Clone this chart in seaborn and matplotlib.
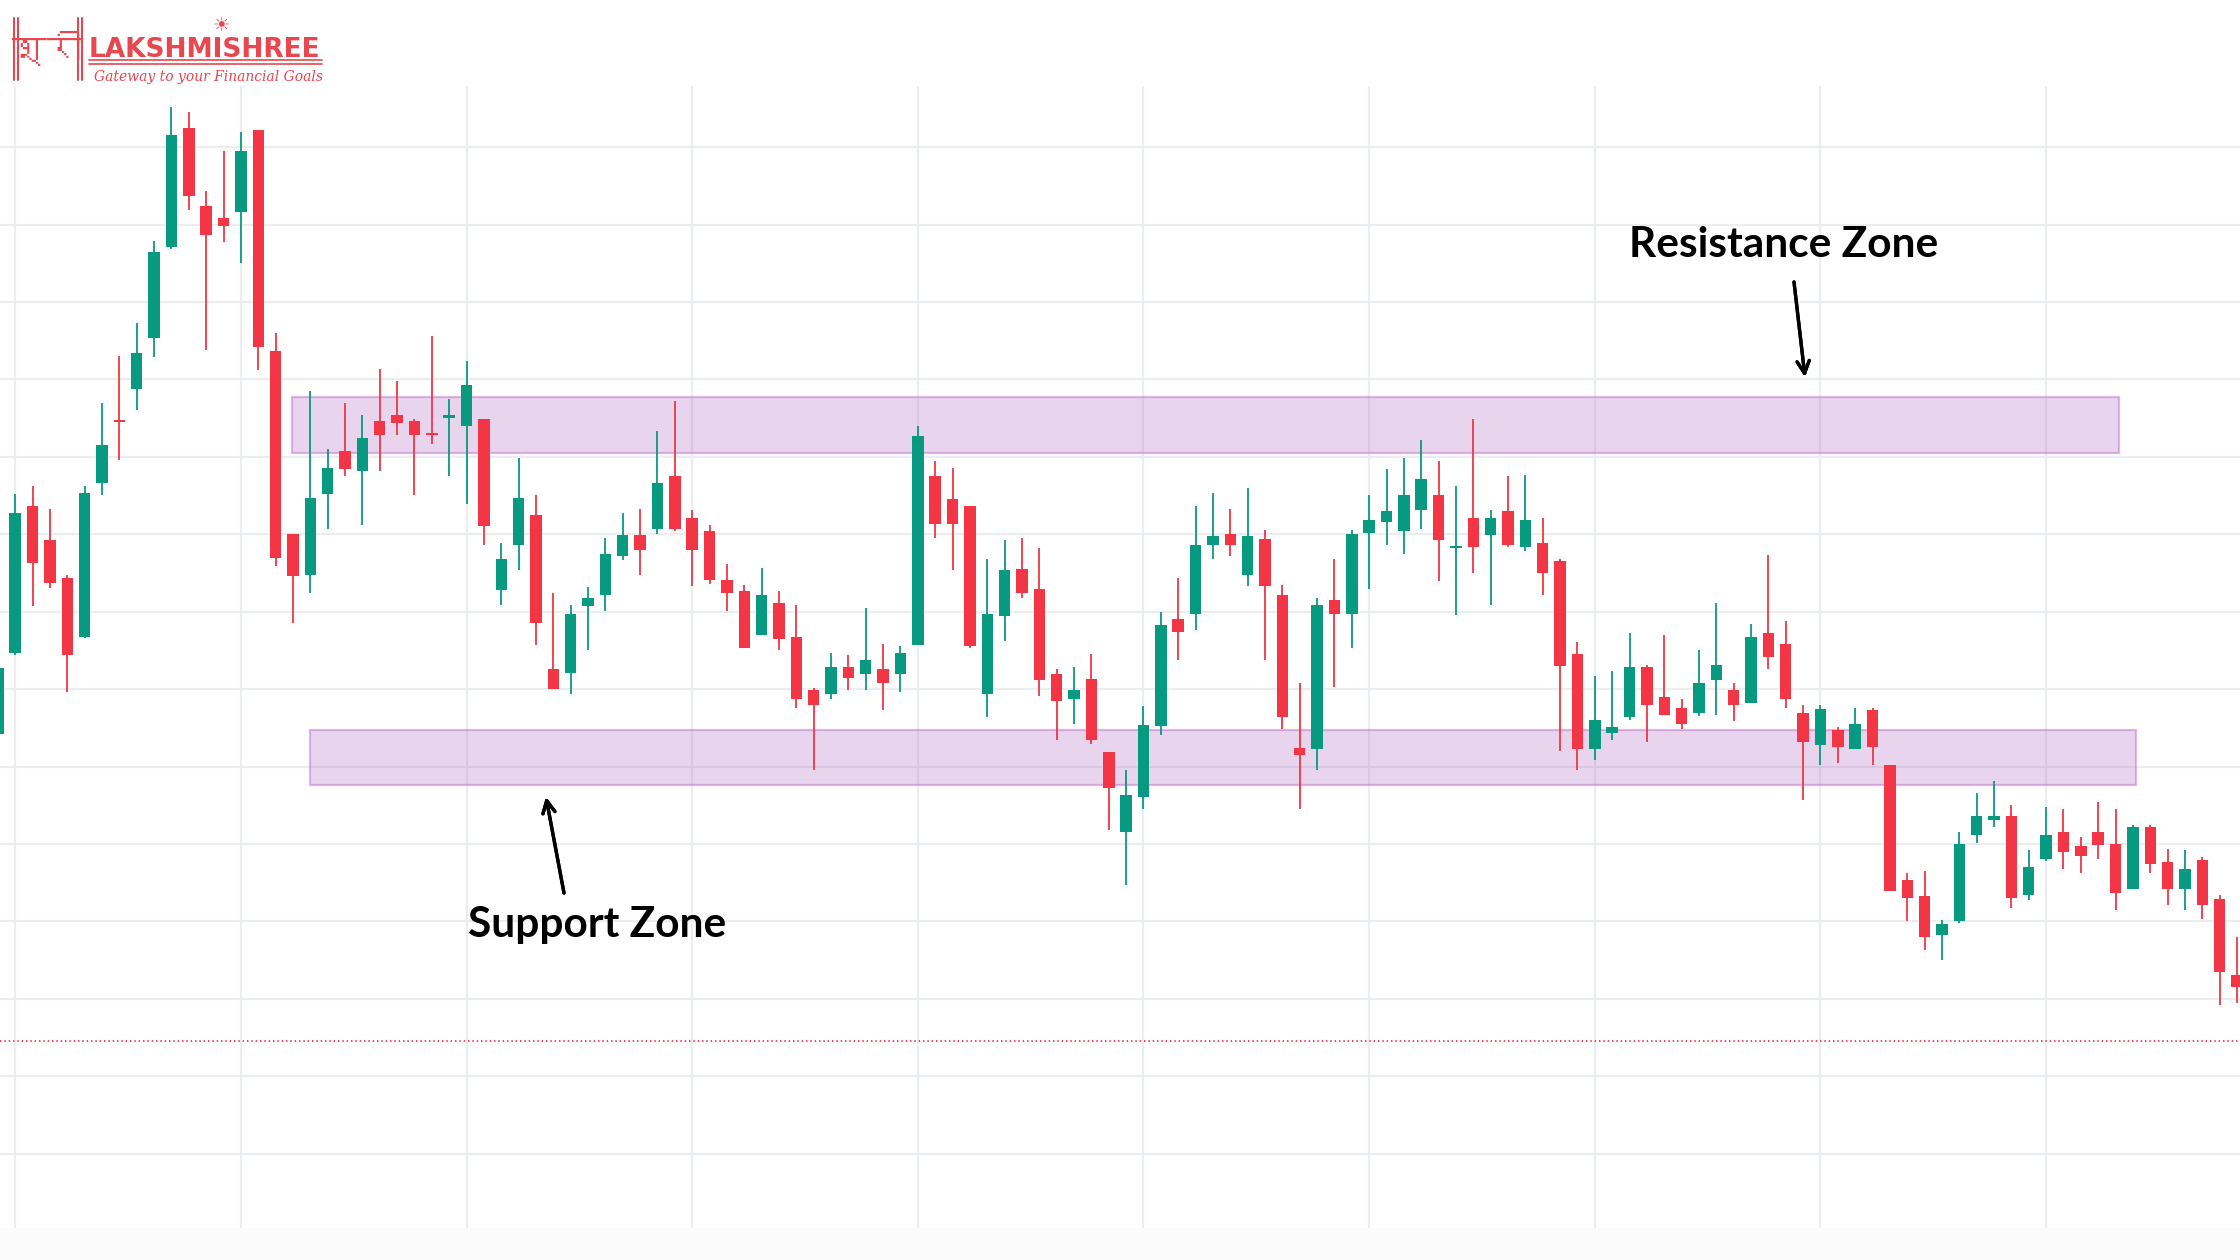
import numpy as np
import seaborn as sns
import matplotlib.pyplot as plt
from matplotlib.patches import Rectangle
from matplotlib.lines import Line2D
from matplotlib import font_manager, ft2font

# candle data (price units, one row of 10 candles per line)
opens = [386, 442.5, 545.5, 521.5, 495.5, 454, 562, 606, 627.5, 663,
         727, 810.5, 755.5, 747.5, 751.5, 809, 654.5, 526, 497.5, 554,
         584, 570, 605, 609.5, 605, 597, 607.5, 602, 606.5, 486.5,
         518.5, 539, 431.5, 428.5, 475.5, 483, 510.5, 525, 529.5, 566.5,
         537.5, 528, 494, 486, 455.5, 478, 454, 417, 414, 433,
         428, 431.5, 428, 448, 566.5, 550.5, 545.5, 414, 468.5, 501.5,
         487.5, 428, 410.5, 424.5, 373.5, 317.5, 342, 391.5, 466.5, 470,
         518.5, 526, 497.5, 522.5, 483, 376.5, 375.5, 479.5, 470, 526.5,
         534.5, 528, 542.5, 553.5, 516, 537, 525, 542, 517, 519.5,
         507, 442, 375.5, 387, 398, 433, 412, 404, 401, 423.5,
         416.5, 407.5, 457, 449, 400.5, 378.5, 388.5, 375.5, 402.5, 364,
         283.5, 272.5, 245.5, 255, 315, 326, 328.5, 273, 298.5, 317,
         307.5, 317, 309, 277.5, 320.5, 296.5, 277.5, 298, 270.5, 217.5]
highs = [435, 554, 560, 543.5, 497, 559.5, 617.5, 651, 674, 731.5,
         825, 821.5, 766.5, 794.5, 807.5, 809, 667, 526, 626, 585.5,
         617.5, 609.5, 641.5, 633.5, 606.5, 664.5, 620.5, 647, 606.5, 519.5,
         579, 553.5, 484.5, 476.5, 489, 523, 540.5, 543.5, 598.5, 619.5,
         542.5, 532.5, 505, 490.5, 502, 486, 476.5, 418, 442.5, 441,
         474.5, 449, 447.5, 602, 577.5, 572.5, 545.5, 508.5, 521.5, 523,
         516.5, 431.5, 433, 442, 373.5, 360.5, 405.5, 471.5, 495.5, 545.5,
         554.5, 543.5, 558, 529, 490.5, 421.5, 481, 508.5, 529, 553.5,
         571.5, 579, 592, 577.5, 560, 606.5, 542.5, 566.5, 567.5, 537.5,
         508.5, 450.5, 426.5, 430, 456.5, 434.5, 455.5, 410.5, 444.5, 478,
         421.5, 463, 511.5, 465, 406, 406, 391, 404, 404, 364,
         288.5, 290, 256, 317, 344.5, 353, 336.5, 304.5, 335, 333.5,
         314, 338, 333.5, 322, 322, 305.5, 304.5, 300, 273.5, 243.5]
lows = [384, 441, 475.5, 488, 415.5, 453, 553.5, 578, 613, 650,
        725.5, 753, 655, 730.5, 716, 641, 503.5, 464, 484.5, 529.5,
        566.5, 532.5, 570, 595.5, 553.5, 589, 567, 547, 518.5, 476.5,
        501, 448, 417.5, 414, 444.5, 472, 507.5, 497.5, 526, 528,
        489.5, 491, 472, 446, 455.5, 444.5, 404, 361, 410.5, 417,
        417, 403, 415.5, 448, 523, 500.5, 446, 398, 451, 481,
        412.5, 382, 393, 379, 319, 280.5, 333.5, 385, 438, 459,
        508.5, 510.5, 489.5, 438, 389.5, 333.5, 361, 419, 446, 487.5,
        518.5, 512, 529.5, 493, 469, 499, 476.5, 517, 514, 483,
        374, 361, 367.5, 382, 396, 380.5, 399.5, 389.5, 398.5, 399.5,
        395, 407.5, 431.5, 404, 340, 364, 365.5, 375.5, 364, 276,
        255, 234.5, 228, 253.5, 309.5, 321, 264, 269.5, 297, 291.5,
        288.5, 298.5, 263, 277.5, 288.5, 266, 263, 256.5, 196, 197.5]
closes = [432, 540.5, 505.5, 491.5, 441, 555, 588.5, 605, 653, 723.5,
          805.5, 762.5, 735.5, 742, 794.5, 657, 509, 496.5, 551.5, 572.5,
          571.5, 593.5, 595.5, 603.5, 595.5, 595.5, 609, 630.5, 531.5, 508.5,
          551.5, 464, 417.5, 470, 481, 512, 525, 515, 561.5, 529.5,
          515, 494, 484.5, 446, 483, 452.5, 410.5, 406, 433, 425,
          438, 421.5, 442.5, 595, 533, 533, 447.5, 470, 500.5, 484.5,
          423.5, 409, 417, 382, 348, 343, 392.5, 462, 457.5, 518,
          524.5, 518.5, 524.5, 489.5, 398, 371, 476, 470, 526, 535.5,
          542, 553.5, 564.5, 521.5, 517.5, 517, 537, 518.5, 535.5, 499,
          433.5, 375.5, 396, 391, 433, 406, 399.5, 393, 421.5, 434.5,
          406, 454, 440, 410.5, 380.5, 403.5, 377, 393, 377, 276,
          271, 244, 253, 309, 328.5, 328.5, 271, 293, 315.5, 303,
          300.5, 308, 274.5, 320.5, 295, 277.5, 291.5, 266, 219.5, 209]

# zones: (first candle, last candle, low price, high price)
resistance_zone = [16.93, 122.2, 583.1, 622.3]
support_zone = [17.98, 123.2, 350.0, 389.0]
last_price_line = 171

GREEN = "#089981"
RED = "#f23645"
LOGO_RED = "#e8474f"


def find_font(char, fallback="DejaVu Sans"):
    # look for an installed font that actually has the glyph
    for f in font_manager.fontManager.ttflist:
        try:
            if ord(char) in ft2font.FT2Font(f.fname).get_charmap():
                return f.name
        except Exception:
            continue
    return fallback


sns.set_style("whitegrid", {"grid.color": "#ebedf0", "axes.edgecolor": "white"})

W, H = 2240, 1260
fig = plt.figure(figsize=(W / 100, H / 100), dpi=100, facecolor="white")
# pale band below the chart
fig.add_artist(Rectangle((0, 0), 1, 32 / H, transform=fig.transFigure,
                         color="#fbfbfb", zorder=0))

ax = fig.add_axes([0, 32 / H, 1, (1228 - 85.7) / H])
ax.set_facecolor("white")

o = np.array(opens)
c = np.array(closes)
x = np.arange(len(o))
up = c >= o
colors = np.where(up, GREEN, RED)
body = c - o
body = np.where(np.abs(body) < 1.6, np.where(up, 1.6, -1.6), body)

ax.vlines(x, lows, highs, colors=colors, lw=1.3, zorder=3)
ax.bar(x, body, bottom=o, width=0.66, color=colors, linewidth=0, zorder=4)

for z in (resistance_zone, support_zone):
    ax.add_patch(Rectangle((z[0], z[2]), z[1] - z[0], z[3] - z[2],
                           facecolor=(0.64, 0.31, 0.73, 0.24),
                           edgecolor=(0.72, 0.40, 0.80, 0.45),
                           lw=1.6, zorder=2))

ax.axhline(last_price_line, color=RED, lw=1.3, ls=(0, (0.8, 1.6)), zorder=2)

ax.set_xlim(0.123, 129.17)
ax.set_ylim(40, 840)
ax.set_xticks(np.arange(1, 130, 13))
ax.set_yticks(np.arange(92, 840, 54.23))
ax.grid(True, lw=1.6)
ax.tick_params(length=0, labelbottom=False, labelleft=False)
sns.despine(ax=ax, left=True, bottom=True)

# annotations
bold_font = ["Lato", "DejaVu Sans"]
fig.text(1784 / W, 1 - 257 / H, "Resistance Zone", ha="center", va="baseline",
         fontsize=30.5, fontweight="bold", family=bold_font, color="black")
fig.text(597 / W, 1 - 937 / H, "Support Zone", ha="center", va="baseline",
         fontsize=30.5, fontweight="bold", family=bold_font, color="black")
arrow = dict(arrowstyle="->", lw=2.4, color="black", mutation_scale=22,
             shrinkA=0, shrinkB=0)
fig.add_artist(plt.annotate("", xy=(1805 / W, 1 - 377 / H), xytext=(1794 / W, 1 - 282 / H),
                            xycoords="figure fraction", arrowprops=arrow))
fig.add_artist(plt.annotate("", xy=(546 / W, 1 - 797 / H), xytext=(564 / W, 1 - 893 / H),
                            xycoords="figure fraction", arrowprops=arrow))

# logo
for lx in (14, 17.5, 78, 81.5):
    fig.add_artist(Line2D([lx / W, lx / W], [1 - 18 / H, 1 - 80 / H],
                          color=LOGO_RED, lw=1.5, transform=fig.transFigure))
shri = "श्री"
fig.text(47 / W, 1 - 48 / H, shri, ha="center", va="center", fontsize=25,
         family=[find_font("श"), "DejaVu Sans"], color=LOGO_RED)
fig.text(89 / W, 1 - 57 / H, "LAKSHMISHREE", ha="left", va="baseline",
         fontsize=19, fontweight="bold", color=LOGO_RED)
for ly in (60, 64):
    fig.add_artist(Line2D([89 / W, 322 / W], [1 - ly / H, 1 - ly / H],
                          color=LOGO_RED, lw=1.2, transform=fig.transFigure))
fig.text(221 / W, 1 - 26 / H, "☀", ha="center", va="center", fontsize=14,
         color=LOGO_RED)
fig.text(323 / W, 1 - 81 / H, "Gateway to your Financial Goals", ha="right",
         va="baseline", fontsize=10, style="italic", family="DejaVu Serif",
         color=LOGO_RED)

fig.savefig("out.png", dpi=100, facecolor=fig.get_facecolor())
